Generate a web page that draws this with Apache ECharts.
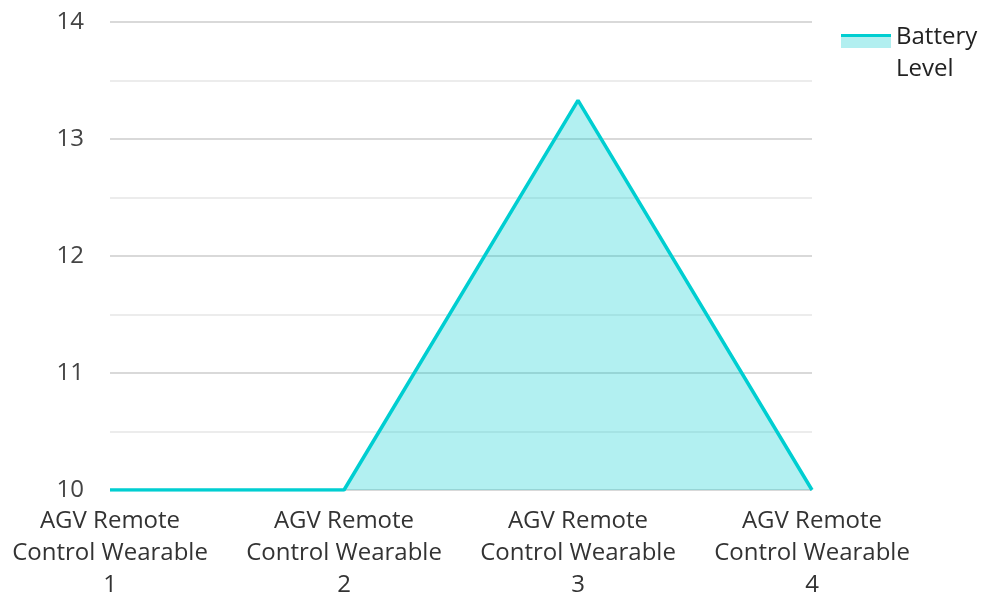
<!DOCTYPE html>
<html>
<head>
<meta charset="utf-8">
<script src="https://cdn.jsdelivr.net/npm/echarts@6/dist/echarts.min.js"></script>
<style>
  html, body { margin: 0; padding: 0; background: #fff; }
  #chart { width: 983px; height: 594px; }
</style>
</head>
<body>
<div id="chart"></div>
<script>
// Battery level per device
const categories = [
  'AGV Remote Control Wearable 1',
  'AGV Remote Control Wearable 2',
  'AGV Remote Control Wearable 3',
  'AGV Remote Control Wearable 4'
];
const batteryLevel = [10, 10, 13.33, 10];
const seriesName = 'Battery Level';
const yTicks = [10, 11, 12, 13, 14];

const lineColor = '#00CED1';
const areaLight = '#b2eff0';
const fontFamily = '"Open Sans", "Noto Sans", sans-serif';

// Legend swatch: thin line on top of a light area block, rest transparent so
// the swatch sits level with the first line of the wrapped legend text.
const swatchH = 38;
const lineStop = 3.5 / swatchH;
const areaStop = 14 / swatchH;

const chart = echarts.init(document.getElementById('chart'), null, { renderer: 'canvas' });

chart.setOption({
  animation: false,
  backgroundColor: '#ffffff',
  textStyle: { fontFamily: fontFamily },
  grid: {
    left: 110, right: 171, top: 22, bottom: 104,
    containLabel: false,
    outerBoundsMode: 'none'
  },
  legend: {
    data: [seriesName],
    left: 836,
    top: 16,
    orient: 'vertical',
    icon: 'rect',
    itemWidth: 50,
    itemHeight: swatchH,
    itemGap: 10,
    formatter: name => name.replace(' ', '\n'),
    itemStyle: {
      color: {
        type: 'linear', x: 0, y: 0, x2: 0, y2: 1,
        colorStops: [
          { offset: 0, color: lineColor },
          { offset: lineStop, color: lineColor },
          { offset: lineStop, color: areaLight },
          { offset: areaStop, color: areaLight },
          { offset: areaStop, color: 'rgba(255,255,255,0)' },
          { offset: 1, color: 'rgba(255,255,255,0)' }
        ]
      },
      borderWidth: 0
    },
    lineStyle: { width: 0 },
    textStyle: {
      fontSize: 24, color: '#222', lineHeight: 32,
      fontFamily: fontFamily
    }
  },
  xAxis: {
    type: 'category',
    data: categories,
    boundaryGap: false,
    axisLine: { show: false },
    axisTick: { show: false },
    splitLine: { show: false },
    axisLabel: {
      interval: 0,
      margin: 15,
      fontSize: 24,
      lineHeight: 32,
      color: '#333',
      formatter: v => v.replace(' Control ', '\nControl ').replace(/ (\d+)$/, '\n$1')
    }
  },
  yAxis: {
    type: 'value',
    min: 10,
    max: 14,
    interval: 0.5,
    axisLine: { show: false },
    axisTick: { show: false },
    axisLabel: {
      margin: 26,
      fontSize: 24,
      color: '#444',
      formatter: v => (yTicks.indexOf(v) >= 0 ? String(v) : '')
    },
    splitLine: {
      show: true,
      lineStyle: { color: ['#cccccc', '#e6e6e6'], width: 1.5 }
    }
  },
  series: [{
    name: seriesName,
    type: 'line',
    data: batteryLevel,
    symbol: 'none',
    lineStyle: { color: lineColor, width: 3.5 },
    itemStyle: { color: lineColor },
    areaStyle: { color: lineColor, opacity: 0.3 }
  }]
});
</script>
</body>
</html>
